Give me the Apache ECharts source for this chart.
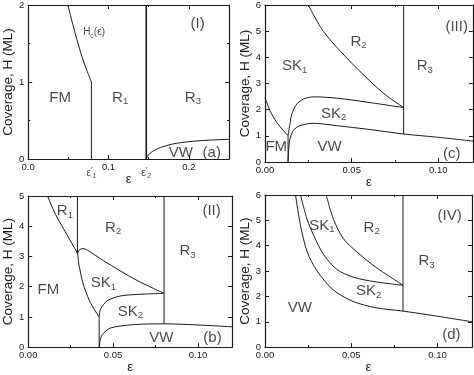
<!DOCTYPE html>
<html><head><meta charset="utf-8">
<script src="https://cdn.jsdelivr.net/npm/echarts@6/dist/echarts.min.js"></script>
<style>html,body{margin:0;padding:0;background:#fff}#c{width:474px;height:375px}</style>
</head><body><div id="c"></div><script>
// ---------- Panel (a) / (I) ----------
const aEps1 = 0.0787, aEps2 = 0.147;
const aHcCurve = [[0.0494,2.0],[0.0555,1.75],[0.062,1.5],[0.0695,1.25],[0.0787,1.0]];
const aEps1Line = [[0.0787,0],[0.0787,1.0]];
const aEps2Line = [[0.147,0],[0.147,2.0]];
const aVWCurve = [[0.147,0],[0.1495,0.05],[0.155,0.1],[0.165,0.15],[0.18,0.195],[0.2,0.225],[0.225,0.245],[0.25,0.255]];
const aLabels = [[0.0398,0.80,'FM',''],[0.1145,0.80,'R','1'],[0.205,0.80,'R','3'],[0.19,0.08,'VW',''],[0.2285,0.08,'(a)',''],[0.211,1.75,'(I)','']];
// ---------- Panel (b) / (II) ----------
const bFMCurve = [[0.0114,5],[0.0161,4.39],[0.0209,3.91],[0.0256,3.44],[0.029,3.09],[0.0298,2.75],[0.0323,2.11],[0.0361,1.53],[0.0399,1.16],[0.0418,1.0]];
const bR1R2Line = [[0.029,3.09],[0.029,5]];
const bFMVWLine = [[0.0418,0],[0.0418,1.0]];
const bSK1R2Curve = [[0.029,3.09],[0.0303,3.22],[0.0323,3.26],[0.0351,3.2],[0.0446,2.85],[0.0636,2.22],[0.08,1.78]];
const bSK1SK2Curve = [[0.0418,1.0],[0.0421,1.15],[0.0427,1.27],[0.0465,1.53],[0.0541,1.69],[0.0636,1.74],[0.08,1.78]];
const bSK2VWCurve = [[0.0418,0],[0.0425,0.25],[0.0437,0.42],[0.0484,0.63],[0.0579,0.72],[0.0674,0.76],[0.08,0.77],[0.12,0.67]];
const bR3Line = [[0.08,0.77],[0.08,5]];
const bLabels = [[0.0216,4.5,'R','1'],[0.108,4.5,'(II)',''],[0.05,3.96,'R','2'],[0.0938,3.17,'R','3'],[0.0443,2.12,'SK','1'],[0.0119,1.9,'FM',''],[0.0602,1.17,'SK','2'],[0.0784,0.31,'VW',''],[0.1085,0.31,'(b)','']];
// ---------- Panel (c) / (III) ----------
const cFMCurve = [[0,2.46],[0.0029,1.96],[0.0067,1.52],[0.0106,1.2],[0.0133,1.01]];
const cFMVWLine = [[0.0133,0],[0.0133,1.01]];
const cSK1SK2Curve = [[0.0133,1.01],[0.0145,1.5],[0.0154,1.83],[0.0183,2.21],[0.0221,2.40],[0.0279,2.49],[0.0413,2.44],[0.0606,2.27],[0.08,2.08]];
const cSK2VWCurve = [[0.0133,0],[0.0137,0.5],[0.0142,0.82],[0.0163,1.2],[0.0202,1.39],[0.0279,1.48],[0.0413,1.39],[0.0606,1.24],[0.08,1.07],[0.099,0.95],[0.12,0.8]];
const cSK1R2Curve = [[0.025,6],[0.0337,4.99],[0.0471,3.98],[0.0606,3.09],[0.0702,2.53],[0.08,2.08]];
const cR3Line = [[0.08,1.07],[0.08,6]];
const cLabels = [[0.1106,5.18,'(III)',''],[0.054,4.61,'R','2'],[0.0171,3.66,'SK','1'],[0.0922,3.66,'R','3'],[0.0396,1.84,'SK','2'],[0.0065,0.56,'FM',''],[0.0373,0.56,'VW',''],[0.1077,0.33,'(c)','']];
// ---------- Panel (d) / (IV) ----------
const dVWCurve = [[0.0177,6],[0.0206,4.79],[0.0244,3.77],[0.0301,3.01],[0.0397,2.25],[0.0511,1.80],[0.0645,1.55],[0.08,1.42],[0.0988,1.23],[0.12,1.0]];
const dSKCurve = [[0.0206,6],[0.0244,5.04],[0.0282,4.41],[0.034,3.65],[0.0416,3.07],[0.0511,2.76],[0.0645,2.57],[0.08,2.44]];
const dR2Curve = [[0.0355,6],[0.0397,5.04],[0.0454,4.28],[0.053,3.77],[0.0645,3.14],[0.08,2.44]];
const dR3Line = [[0.08,1.42],[0.08,6]];
const dLabels = [[0.107,5.18,'(IV)',''],[0.033,4.8,'SK','1'],[0.0618,4.72,'R','2'],[0.0936,3.39,'R','3'],[0.0601,2.2,'SK','2'],[0.0202,1.55,'VW',''],[0.108,0.48,'(d)','']];
// axis tick settings
const xMaxes = [0.25, 0.12, 0.12, 0.12];
const xIntervals = [0.1, 0.05, 0.05, 0.05];
const xDecimals = [1, 2, 2, 2];
const yMaxes = [2, 5, 6, 6];
const yTitle = 'Coverage, H (ML)';
const xTitle = 'ε';

const FONT = 'Liberation Sans, Arial, sans-serif';
const INK = '#1a1a1a';
const grids = [
  {left:22, top:4, width:207, height:155},
  {left:22, top:196, width:210, height:158},
  {left:265, top:3, width:208, height:159},
  {left:265, top:195, width:207, height:158}
];
const xNameGaps = [14, 11, 13, 10];
const yNameGaps = [10, 10, 11, 11];

const xAxis = [], yAxis = [], series = [];
grids.forEach((g, i) => {
  const common = {type:'value', gridIndex:i, min:0, max:xMaxes[i], interval:xIntervals[i],
    axisLine:{show:true, onZero:false, lineStyle:{color:INK, width:1.2}},
    axisTick:{show:true, inside:true, length:4, lineStyle:{color:INK}},
    minorTick:{show:true, splitNumber:2, length:2, lineStyle:{color:INK}},
    splitLine:{show:false}};
  xAxis.push(Object.assign({}, common, {position:'bottom', name:xTitle, nameLocation:'middle', nameGap:xNameGaps[i],
    nameTextStyle:{fontFamily:FONT, fontSize:13, color:INK},
    axisLabel:{show:true, margin:3, fontFamily:FONT, fontSize:9.5, color:INK, showMaxLabel:false,
      formatter:v => v.toFixed(xDecimals[i])}}));
  xAxis.push(Object.assign({}, common, {position:'top', axisLabel:{show:false}}));
  const ycommon = {type:'value', gridIndex:i, min:0, max:yMaxes[i], interval:1,
    axisLine:{show:true, onZero:false, lineStyle:{color:INK, width:1.2}},
    axisTick:{show:true, inside:true, length:4, lineStyle:{color:INK}},
    minorTick:{show:i===0, splitNumber:2, length:2, lineStyle:{color:INK}},
    splitLine:{show:false}};
  yAxis.push(Object.assign({}, ycommon, {position:'left', name:yTitle, nameLocation:'middle', nameGap:yNameGaps[i],
    nameTextStyle:{fontFamily:FONT, fontSize:13.5, color:INK},
    axisLabel:{show:true, margin:4, fontFamily:FONT, fontSize:9.5, color:INK}}));
  yAxis.push(Object.assign({}, ycommon, {position:'right', axisLabel:{show:false}}));
});

function addLine(i, data, w) {
  series.push({type:'line', xAxisIndex:2*i, yAxisIndex:2*i, data:data, showSymbol:false, symbol:'none',
    smooth:data.length > 2 ? 0.3 : false, clip:true, silent:true,
    lineStyle:{color:INK, width:w || 1}});
}
const rich = {
  m:{fontFamily:FONT, fontSize:15, color:INK},
  s:{fontFamily:FONT, fontSize:9.5, color:INK, padding:[8,0,0,0]},
  h:{fontFamily:FONT, fontSize:10, color:INK},
  hs:{fontFamily:FONT, fontSize:7, color:INK, padding:[6,0,0,0]},
  hp:{fontFamily:FONT, fontSize:8, color:INK, padding:[0,0,6,0]}
};
const hidden = {color:'rgba(0,0,0,0)'};
function addLabels(i, labels) {
  series.push({type:'scatter', xAxisIndex:2*i, yAxisIndex:2*i, symbolSize:1, clip:false, silent:true,
    itemStyle:hidden,
    data:labels.map(l => ({value:[l[0], l[1]], t:l[2], sub:l[3]})),
    label:{show:true, position:'inside', color:INK, rich:rich,
      formatter:p => '{m|' + p.data.t + '}' + (p.data.sub ? '{s|' + p.data.sub + '}' : '')}});
}

// panel a
addLine(0, aHcCurve); addLine(0, aEps1Line); addLine(0, aEps2Line, 1.6); addLine(0, aVWCurve);
addLabels(0, aLabels);
series.push({type:'scatter', xAxisIndex:0, yAxisIndex:0, symbolSize:1, clip:false, silent:true, itemStyle:hidden,
  data:[{value:[0.082, 1.64], r:'{h|H}{hs|c}{h|(ε)}'}],
  label:{show:true, position:'inside', color:INK, rich:rich, formatter:p => p.data.r}});
series.push({type:'scatter', xAxisIndex:0, yAxisIndex:0, symbolSize:1, clip:false, silent:true, itemStyle:hidden,
  data:[{value:[aEps1, 0], k:'1'}, {value:[aEps2, 0], k:'2'}],
  label:{show:true, position:'inside', offset:[0, 14], color:INK, rich:rich,
    formatter:p => '{h|ε}{hp|′}{hs|' + p.data.k + '}'}});
// panel b
addLine(1, bFMCurve); addLine(1, bR1R2Line); addLine(1, bFMVWLine); addLine(1, bSK1R2Curve);
addLine(1, bSK1SK2Curve); addLine(1, bSK2VWCurve); addLine(1, bR3Line);
addLabels(1, bLabels);
// panel c
addLine(2, cFMCurve); addLine(2, cFMVWLine); addLine(2, cSK1SK2Curve); addLine(2, cSK2VWCurve);
addLine(2, cSK1R2Curve); addLine(2, cR3Line);
addLabels(2, cLabels);
// panel d
addLine(3, dVWCurve); addLine(3, dSKCurve); addLine(3, dR2Curve); addLine(3, dR3Line);
addLabels(3, dLabels);

const chart = echarts.init(document.getElementById('c'), null, {renderer:'canvas'});
chart.setOption({animation:false, backgroundColor:'#fff', grid:grids, xAxis:xAxis, yAxis:yAxis, series:series});
</script></body></html>
